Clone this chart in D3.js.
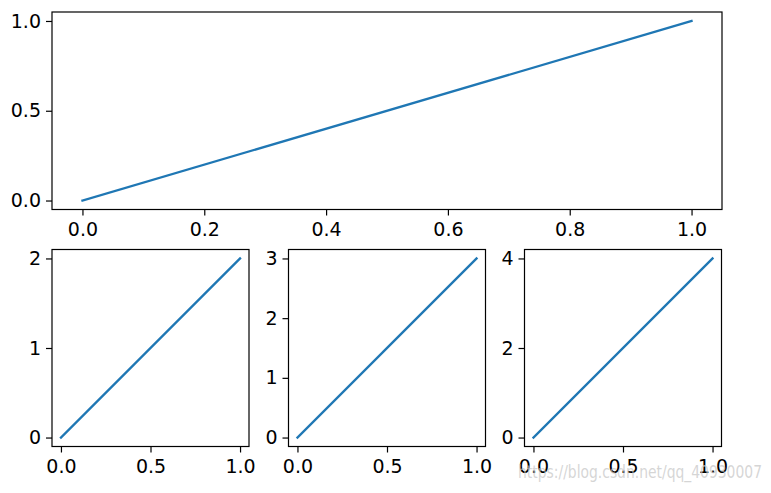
<!DOCTYPE html>
<html><head><meta charset="utf-8">
<script src="https://cdn.jsdelivr.net/npm/d3@7"></script>
<style>
body{margin:0;background:#fff;}
svg text{font-family:"DejaVu Sans",sans-serif;}
</style></head>
<body><svg id="c" width="771" height="493"></svg>
<script>
// data
const xTop = [0, 1];
const yTop = [0, 1];
const xBottom = [0, 1];
const yBottom1 = [0, 2];
const yBottom2 = [0, 3];
const yBottom3 = [0, 4];
const topXTicks = [0, 0.2, 0.4, 0.6, 0.8, 1.0];
const topYTicks = [0, 0.5, 1.0];
const bottomXTicks = [0, 0.5, 1.0];
const b1YTicks = [0, 1, 2];
const b2YTicks = [0, 1, 2, 3];
const b3YTicks = [0, 2, 4];

const svg = d3.select("#c");
const color = "#1f77b4";
const fs = 19;

function panel(box, xs, ys, xt, yt, xfmt, yfmt) {
  const [x0, x1] = d3.extent(xs), [y0, y1] = d3.extent(ys);
  const mx = (x1 - x0) * 0.05, my = (y1 - y0) * 0.05;
  const x = d3.scaleLinear().domain([x0 - mx, x1 + mx]).range([box.l, box.r]);
  const y = d3.scaleLinear().domain([y0 - my, y1 + my]).range([box.b, box.t]);
  const g = svg.append("g");
  const xa = g.append("g").attr("transform", `translate(0,${box.b})`)
    .call(d3.axisBottom(x).tickValues(xt).tickFormat(xfmt).tickSize(6).tickPadding(7));
  const ya = g.append("g").attr("transform", `translate(${box.l},0)`)
    .call(d3.axisLeft(y).tickValues(yt).tickFormat(yfmt).tickSize(6).tickPadding(5));
  [xa, ya].forEach(a => {
    a.select(".domain").remove();
    a.selectAll("line").attr("stroke", "#000").attr("stroke-width", 1.2);
    a.selectAll("text").attr("font-size", fs).attr("fill", "#000").attr("font-family", "DejaVu Sans");
  });
  const pts = xs.map((d, i) => [d, ys[i]]);
  g.append("path").datum(pts)
    .attr("d", d3.line().x(d => x(d[0])).y(d => y(d[1])))
    .attr("fill", "none").attr("stroke", color).attr("stroke-width", 2.3).attr("stroke-linecap", "square");
  g.append("rect").attr("x", box.l).attr("y", box.t).attr("width", box.r - box.l).attr("height", box.b - box.t)
    .attr("fill", "none").attr("stroke", "#000").attr("stroke-width", 1.2);
}

const f1 = d3.format(".1f"), f0 = d3.format("d");
panel({l: 52, r: 722, t: 12, b: 209.5}, xTop, yTop, topXTicks, topYTicks, f1, f1);
panel({l: 52, r: 249, t: 249.5, b: 446.5}, xBottom, yBottom1, bottomXTicks, b1YTicks, f1, f0);
panel({l: 288.5, r: 485.5, t: 249.5, b: 446.5}, xBottom, yBottom2, bottomXTicks, b2YTicks, f1, f0);
panel({l: 524.5, r: 721.5, t: 249.5, b: 446.5}, xBottom, yBottom3, bottomXTicks, b3YTicks, f1, f0);

svg.append("text").attr("x", 518).attr("y", 478)
  .attr("font-family", "Liberation Sans, Arial, sans-serif").attr("font-size", 17)
  .attr("textLength", 244).attr("lengthAdjust", "spacingAndGlyphs")
  .attr("fill", "#c8c8c8").attr("fill-opacity", 0.75)
  .text("https://blog.csdn.net/qq_40930007");
</script></body></html>
